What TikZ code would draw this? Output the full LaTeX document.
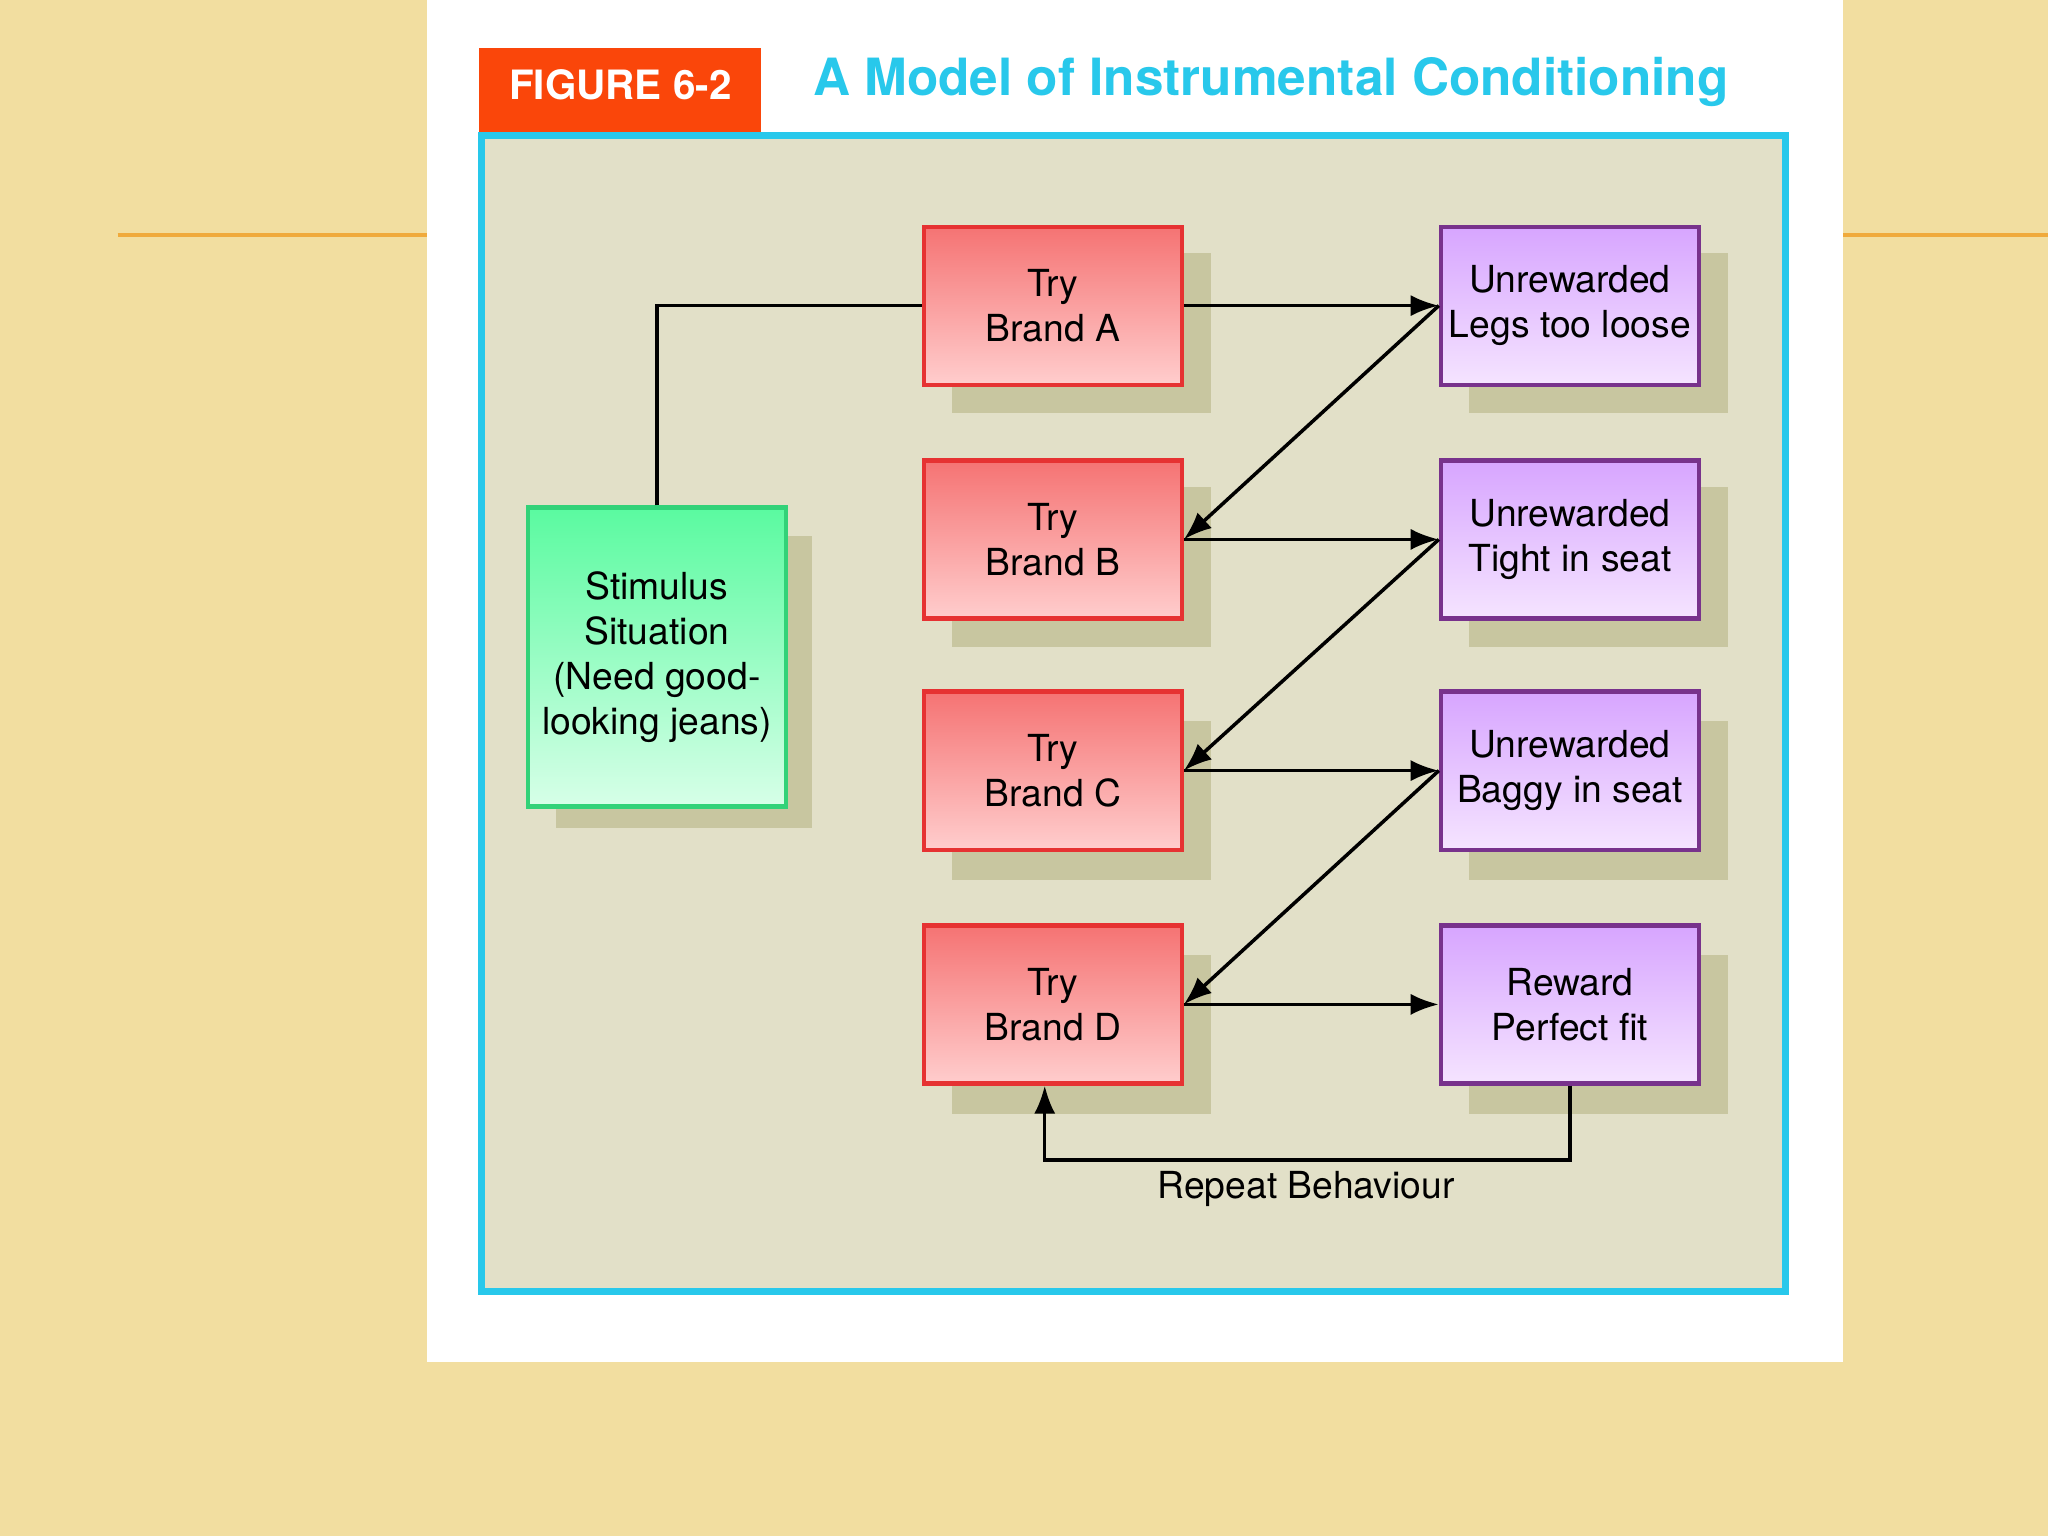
\documentclass[tikz,border=0pt]{standalone}
\usepackage{fontspec}
\setmainfont{TeX Gyre Heros}
\usetikzlibrary{positioning,arrows.meta}
\definecolor{bgold}{RGB}{242,222,160}
\definecolor{panel}{RGB}{226,224,200}
\definecolor{shad}{RGB}{200,198,160}
\definecolor{cyanf}{RGB}{40,200,235}
\definecolor{figred}{RGB}{250,70,10}
\definecolor{lineor}{RGB}{240,170,60}
\begin{document}
\begin{tikzpicture}[x=0.01306cm,y=-0.01306cm,
  box/.style={draw,line width=1.2pt,minimum width=2.58cm,minimum height=1.58cm,align=center,
    font=\fontsize{10.6}{12.8}\selectfont,inner sep=1pt},
  brand/.style={box,draw={rgb,255:red,230;green,50;blue,50},top color={rgb,255:red,245;green,115;blue,115},bottom color={rgb,255:red,255;green,205;blue,205}},
  result/.style={box,draw={rgb,255:red,120;green,50;blue,140},top color={rgb,255:red,215;green,165;blue,255},bottom color={rgb,255:red,245;green,228;blue,255}},
  arr/.style={-{Latex[length=8pt,width=6pt]},line width=1pt},
  ln/.style={line width=1pt}]
\useasboundingbox (0,0) rectangle (1568,1176);
\fill[bgold] (0,0) rectangle (1568,1176);
\draw[lineor,line width=1pt] (90,180) -- (327,180) (1411,180) -- (1568,180);
\fill[white] (327,0) rectangle (1411,1043);
\fill[figred] (367,37) rectangle (583,102);
\node[white,font=\bfseries\fontsize{11.5}{14}\selectfont] (fig) at (475,65) {FIGURE 6-2};
\node[cyanf,font=\bfseries\fontsize{14.6}{18}\selectfont] (title) at (973,63) {A Model of Instrumental Conditioning};
\draw[cyanf,fill=panel,line width=2pt] (369,104) rectangle (1367,989);
% shadows
\foreach \y in {172,351,530,709}{
  \fill[shad] (729,\y+22) rectangle (927,\y+144);
  \fill[shad] (1125,\y+22) rectangle (1323,\y+144);}
\fill[shad] (426,410) rectangle (622,634);
% nodes
\node[brand] (a) at (806,234) {Try\\Brand A};
\node[brand] (b) at (806,413) {Try\\Brand B};
\node[brand] (c) at (806,590) {Try\\Brand C};
\node[brand] (d) at (806,769) {Try\\Brand D};
\node[result] (ua) at (1202,234) {Unrewarded\\Legs too loose};
\node[result] (ub) at (1202,413) {Unrewarded\\Tight in seat};
\node[result] (uc) at (1202,590) {Unrewarded\\Baggy in seat};
\node[result] (r) at (1202,769) {Reward\\Perfect fit};
\node[box,minimum height=2.99cm,draw={rgb,255:red,50;green,210;blue,120},top color={rgb,255:red,90;green,250;blue,160},bottom color={rgb,255:red,215;green,255;blue,232}] (s) at (503,503) {Stimulus\\Situation\\(Need good-\\looking jeans)};
% connectors
\draw[ln] (s.north) |- (a.west);
\draw[arr] (a.east) -- (ua.west);
\draw[arr] (b.east) -- (ub.west);
\draw[arr] (c.east) -- (uc.west);
\draw[arr] (d.east) -- (r.west);
\draw[arr] (ua.west) -- (b.east);
\draw[arr] (ub.west) -- (c.east);
\draw[arr] (uc.west) -- (d.east);
\coordinate (k) at (1000,888);
\draw[arr] (r.south) |- (k) -| ([xshift=-0.08cm]d.south);
\node[font=\fontsize{10.6}{12.8}\selectfont] (rb) at (1000,910) {Repeat Behaviour};
\end{tikzpicture}
\end{document}
